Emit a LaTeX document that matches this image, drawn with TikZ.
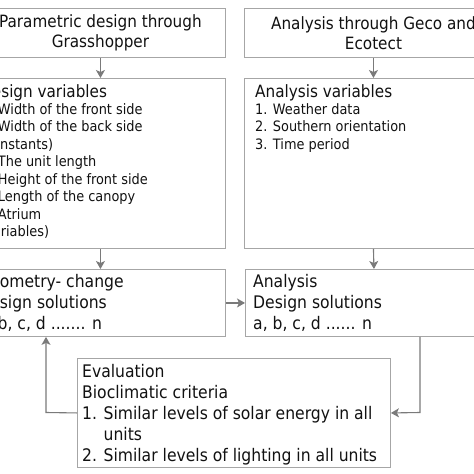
\documentclass[tikz,border=0pt]{standalone}
\usepackage{fontspec}
\setmainfont{DejaVu Sans Condensed}
\usetikzlibrary{arrows.meta,positioning}
\definecolor{boxgray}{HTML}{A6A6A6}
\definecolor{arrgray}{HTML}{7A7A7A}
\definecolor{txtblack}{HTML}{111111}
\newcommand{\hd}[1]{{\fontsize{17}{17.5}\selectfont #1}}

\begin{document}
\begin{tikzpicture}[x=1bp, y=-1bp,
  box/.style={draw=boxgray, line width=0.9bp, anchor=north west, inner sep=0pt, text=txtblack},
  ttl/.style={align=center, font=\fontsize{17}{20}\selectfont},
  txt/.style={anchor=north west, inner sep=0pt, align=left, text=txtblack},
  arr/.style={-{Stealth[length=8bp, width=9bp, inset=2bp]}, line width=1.1bp, color=arrgray}
]
\useasboundingbox (0,0) rectangle (474,474);
\clip (0,0) rectangle (474,474);

% left column
\node[box, ttl, minimum width=250bp, minimum height=49bp] (gras) at (-25,8) {Parametric design through\\Grasshopper};
\node[box, minimum width=250bp, minimum height=170bp] (desvar) at (-25,78) {};
\node[txt, font=\fontsize{14.4}{17.5}\selectfont] (desvartxt) at (-20,84) {\hd{Design variables}\\1. Width of the front side\\2. Width of the back side\\(constants)\\3. The unit length\\4. Height of the front side\\5. Length of the canopy\\6. Atrium\\(variables)};
\node[box, minimum width=250bp, minimum height=67bp] (geom) at (-25,269) {};
\node[txt, font=\fontsize{17.4}{21}\selectfont] (geomtxt) at (-22,274) {Geometry- change\\Design solutions\\a, b, c, d ....... n};

% right column
\node[box, ttl, minimum width=258bp, minimum height=49bp] (geco) at (244,8) {Analysis through Geco and\\Ecotect};
\node[box, minimum width=258bp, minimum height=170bp] (anvar) at (244,78) {};
\node[txt, font=\fontsize{14.4}{17.5}\selectfont] (anvartxt) at (255,84) {\hd{Analysis variables}\\1. Weather data\\2. Southern orientation\\3. Time period};
\node[box, minimum width=257bp, minimum height=67bp] (anal) at (245,269) {};
\node[txt, font=\fontsize{17.4}{21}\selectfont] (analtxt) at (253,274) {Analysis\\Design solutions\\a, b, c, d ...... n};

% evaluation
\node[box, minimum width=313bp, minimum height=109bp] (eval) at (77,358) {};
\node[txt, font=\fontsize{17.4}{21}\selectfont] (evaltxt) at (82,364) {Evaluation\\Bioclimatic criteria\\1. Similar levels of solar energy in all\\\phantom{1. }units\\2. Similar levels of lighting in all units};

\coordinate (rt) at (420,412.5);
\coordinate (lt) at (46,412.5);

\draw[arr] (gras.south) -- (desvar.north);
\draw[arr] (desvar.south) -- (geom.north);
\draw[arr] (geco.south) -- (anvar.north);
\draw[arr] (anvar.south) -- (anal.north);
\draw[arr] (geom.east) -- (anal.west);
\draw[arr] (anal.south -| rt) -- (rt) -- (eval.east);
\draw[arr] (eval.west) -- (lt) -- (geom.south -| lt);
\end{tikzpicture}
\end{document}
